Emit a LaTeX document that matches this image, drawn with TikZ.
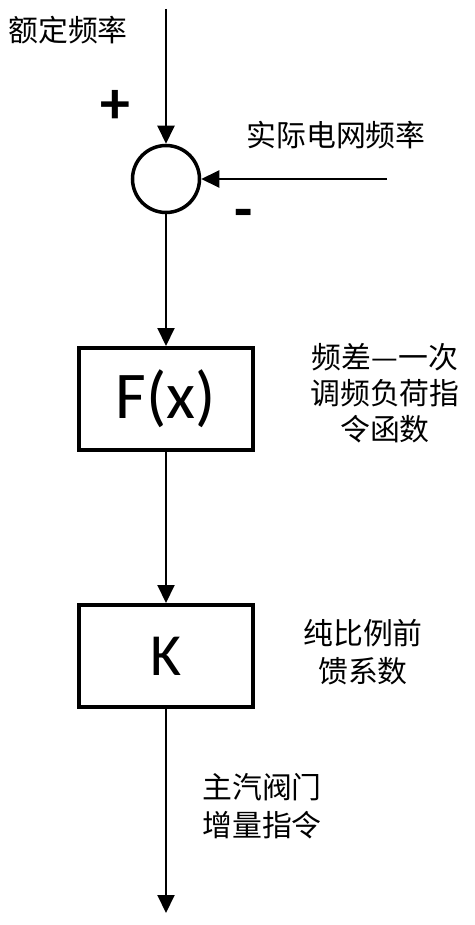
\documentclass[tikz,border=0pt]{standalone}
\usepackage{fontspec}
\setmainfont{Carlito}
\newfontfamily\cjk{Noto Sans CJK SC}
\usetikzlibrary{arrows.meta}

\begin{document}
\begin{tikzpicture}[x=0.2mm,y=-0.2mm]
  \tikzset{block/.style = {shape=rectangle,draw,line width=0.8mm,minimum width=34.8mm,minimum height=20.4mm,inner sep=0pt}}
  \tikzset{sumnode/.style = {shape=circle,draw,line width=0.7mm,minimum size=13.4mm,inner sep=0pt}}
  \tikzset{note/.style = {font=\cjk\fontsize{17}{20.5}\selectfont,inner sep=0pt}}
  \tikzset{sign/.style = {font=\bfseries\fontsize{34}{34}\selectfont,inner sep=0pt}}
  \tikzset{tipA/.tip={Triangle[length=3.6mm,width=3.4mm]}}
  \useasboundingbox (0,0) rectangle (474,925);

	\coordinate (in) at (166,9);
	\coordinate (grid) at (387,179);
	\coordinate (out) at (166,913);

	\node[sumnode] (sum) at (166,179) {};
	\node[block,font=\fontsize{38}{40}\selectfont] (fx) at (166,399) {F(x)};
	\node[block,font=\fontsize{34}{36}\selectfont] (kb) at (166,656) {K};

	\node[note,anchor=west] (rated) at (8,30) {额定频率};
	\node[sign] (plus) at (115,107) {+};
	\node[sign] (minus) at (244,219) {-};
	\node[note] (actual) at (336,135) {实际电网频率};
	\node[note,align=center] (fxnote) at (385,393) {频差—一次\\调频负荷指\\令函数};
	\node[note,align=center,font=\cjk\fontsize{17}{22}\selectfont] (knote) at (363,652) {纯比例前\\馈系数};
	\node[note,align=left,anchor=west,font=\cjk\fontsize{17}{21.5}\selectfont] (outnote) at (202,806) {主汽阀门\\增量指令};

    \foreach \from/\to in {in/sum, grid/sum, sum/fx, fx/kb, kb/out}
    \path[-tipA,line width=0.4mm](\from) edge (\to);

\end{tikzpicture}
\end{document}
